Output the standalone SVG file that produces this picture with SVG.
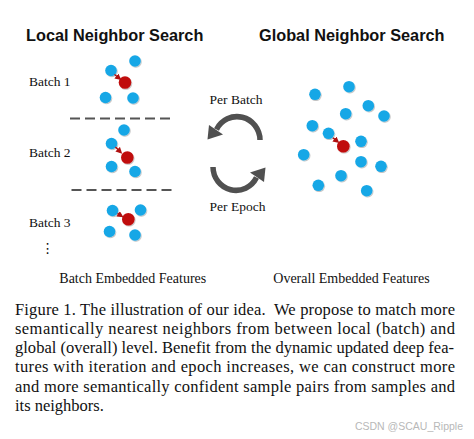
<svg xmlns="http://www.w3.org/2000/svg" width="474" height="439" viewBox="0 0 474 439">
<defs>
<style>
.title{font-family:"Liberation Sans",Arial,sans-serif;font-weight:bold;font-size:16.3px;fill:#111}
.lbl{font-family:"Liberation Serif","Times New Roman",serif;font-size:13.5px;fill:#111}
.sub{font-family:"Liberation Serif","Times New Roman",serif;font-size:14px;fill:#111}
.cap{font-family:"Liberation Serif","Times New Roman",serif;font-size:16.5px;fill:#111}
.wm{font-family:"Liberation Sans",Arial,sans-serif;font-size:10.5px;fill:#b8b8b8}
.b{fill:#19a7e6;filter:url(#sh)}
.r{fill:#c00d0d;filter:url(#sh)}
.dash{stroke:#555;stroke-width:2;stroke-dasharray:10 5;fill:none}
.link{stroke:#b01010;stroke-width:1.6;fill:none;marker-end:url(#ah)}
.arc{stroke:#505050;stroke-width:5.5;fill:none}
.head{fill:#505050}
</style>
<filter id="sh" x="-50%" y="-50%" width="200%" height="200%">
<feDropShadow dx="0.8" dy="1" stdDeviation="0.7" flood-color="#000" flood-opacity="0.25"/>
</filter>
<marker id="ah" markerWidth="4" markerHeight="4" refX="2.5" refY="2" orient="auto" markerUnits="strokeWidth">
<path d="M0,0 L4,2 L0,4 Z" fill="#b01010"/>
</marker>
</defs>
<rect width="474" height="439" fill="#fff"/>

<g id="titles">
<text class="title" x="26" y="41">Local Neighbor Search</text>
<text class="title" x="259" y="41">Global Neighbor Search</text>
</g>

<g id="batch1">
<text class="lbl" x="29" y="85.5">Batch 1</text>
<circle class="b" cx="135" cy="61" r="5.8"/>
<circle class="b" cx="111" cy="70.5" r="5.8"/>
<circle class="b" cx="105.5" cy="97.5" r="5.8"/>
<circle class="b" cx="133" cy="98" r="5.8"/>
<circle class="r" cx="125" cy="82.5" r="6.3"/>
</g>

<g id="batch2">
<text class="lbl" x="29" y="156.5">Batch 2</text>
<circle class="b" cx="124" cy="130" r="5.8"/>
<circle class="b" cx="111.5" cy="143.5" r="5.8"/>
<circle class="b" cx="111.5" cy="166.5" r="5.8"/>
<circle class="b" cx="135" cy="171.5" r="5.8"/>
<circle class="r" cx="127.3" cy="157.5" r="6.3"/>
</g>

<g id="batch3">
<text class="lbl" x="29" y="226.5">Batch 3</text>
<circle class="b" cx="112.5" cy="210.5" r="5.8"/>
<circle class="b" cx="140.5" cy="210" r="5.8"/>
<circle class="b" cx="109.5" cy="231.5" r="5.8"/>
<circle class="b" cx="135" cy="235" r="5.8"/>
<circle class="r" cx="128.3" cy="219.3" r="6.3"/>
<text class="lbl" x="47.7" y="253" text-anchor="middle" style="font-family:'DejaVu Sans',sans-serif;font-size:14px">⋮</text>
</g>

<g id="global">
<circle class="b" cx="315" cy="94.3" r="5.8"/>
<circle class="b" cx="349" cy="86.7" r="5.8"/>
<circle class="b" cx="368.3" cy="105.7" r="5.8"/>
<circle class="b" cx="345.7" cy="113.7" r="5.8"/>
<circle class="b" cx="384" cy="116" r="5.8"/>
<circle class="b" cx="312.3" cy="125.7" r="5.8"/>
<circle class="b" cx="328.5" cy="133.3" r="5.8"/>
<circle class="b" cx="361" cy="141.3" r="5.8"/>
<circle class="b" cx="303.7" cy="154.7" r="5.8"/>
<circle class="b" cx="361" cy="161.7" r="5.8"/>
<circle class="b" cx="381" cy="166.3" r="5.8"/>
<circle class="b" cx="341" cy="175.7" r="5.8"/>
<circle class="b" cx="318.3" cy="185.3" r="5.8"/>
<circle class="b" cx="366.7" cy="190.7" r="5.8"/>
<circle class="r" cx="343.3" cy="146.3" r="6.3"/>
</g>

<g id="per-batch">
<text class="lbl" x="236" y="104" text-anchor="middle">Per Batch</text>
<path class="arc" d="M260,140 A23,23.5 0 0 0 216.5,129.5"/>
<polygon class="head" points="207.5,139.5 209,125 223,134.5"/>
</g>

<g id="per-epoch">
<path class="arc" d="M213,167 A23,23.5 0 0 0 256.5,177.5"/>
<polygon class="head" points="265.5,167.5 264,182 250,172.5"/>
<text class="lbl" x="237.5" y="210.5" text-anchor="middle">Per Epoch</text>
</g>

<g id="connectors">
<line class="dash" x1="70" y1="118.5" x2="173" y2="118.5"/>
<line class="dash" x1="71.5" y1="190" x2="174.5" y2="190"/>
<line class="link" x1="114.5" y1="74.5" x2="119.5" y2="78.5"/>
<line class="link" x1="115.5" y1="147" x2="120.5" y2="152"/>
<line class="link" x1="117.5" y1="213.5" x2="121.5" y2="216"/>
<line class="link" x1="333" y1="137.8" x2="337.5" y2="141.5"/>
</g>

<g id="subtitles">
<text class="sub" x="59.3" y="282.5">Batch Embedded Features</text>
<text class="sub" x="273.3" y="282.5">Overall Embedded Features</text>
</g>

<g id="caption">
<text class="cap" x="15" y="314.5" textLength="440" lengthAdjust="spacing" xml:space="preserve">Figure 1. The illustration of our idea.  We propose to match more</text>
<text class="cap" x="15" y="333.8" textLength="440" lengthAdjust="spacing">semantically nearest neighbors from between local (batch) and</text>
<text class="cap" x="15" y="353" textLength="439" lengthAdjust="spacing">global (overall) level. Benefit from the dynamic updated deep fea-</text>
<text class="cap" x="15" y="372.3" textLength="440" lengthAdjust="spacing">tures with iteration and epoch increases, we can construct more</text>
<text class="cap" x="15" y="391.5" textLength="440" lengthAdjust="spacing">and more semantically confident sample pairs from samples and</text>
<text class="cap" x="15" y="410.8">its neighbors.</text>
</g>

<text class="wm" x="463" y="430" text-anchor="end">CSDN @SCAU_Ripple</text>
</svg>
